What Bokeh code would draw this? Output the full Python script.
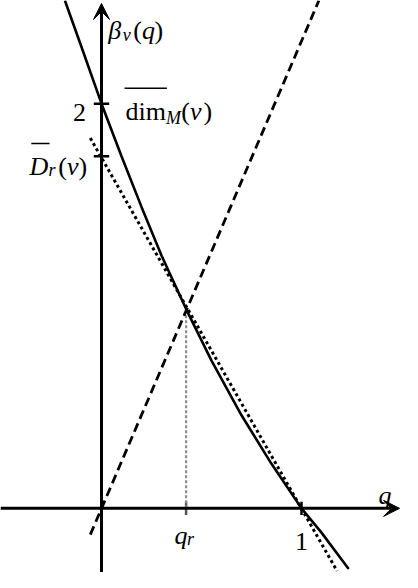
from bokeh.plotting import figure
from bokeh.models import Arrow, VeeHead
from bokeh.core.properties import value
from bokeh.embed import file_html
from bokeh.resources import INLINE

# solid curve beta_nu(q)
q_curve = [-0.183, -0.10, 0.0, 0.10, 0.20, 0.30, 0.423, 0.55, 0.70, 0.85, 1.0, 1.10, 1.236]
beta_curve = [2.51, 2.28, 2.0, 1.74, 1.49, 1.25, 0.985, 0.73, 0.46, 0.22, 0.0, -0.12, -0.30]

# dotted line through (0, D_r) and (1, 0)
q_chord = [-0.056, 1.178]
beta_chord = [1.83, -0.31]

# dashed line from the origin through the crossing point
q_ray = [-0.056, 1.087]
beta_ray = [-0.13, 2.51]

q_r = 0.423
beta_at_qr = 0.985

y_ticks = [2.0, 1.74]      # dim_M(nu), D_r(nu)
x_ticks = [q_r, 1.0]
x_tick_labels = ["q", "1"]
y_tick_labels = ["2"]

x_lo, x_hi = -0.505, 1.505
y_lo, y_hi = -0.317, 2.51

FONT = "Liberation Serif"
BIG = "26px"
SUB = "18px"

p = figure(width=402, height=572, x_range=(x_lo, x_hi), y_range=(y_lo, y_hi),
           output_backend="svg", toolbar_location=None, min_border=0)
p.axis.visible = False
p.grid.visible = False
p.outline_line_color = None
p.background_fill_color = "white"


def at(xp, yp):
    # position in the reference picture (pixels) -> data units
    return (xp - 105) / 208.0, (522 - yp) / 208.0


def put(xp, yp, s, size=BIG, style="normal", align="left"):
    x, y = at(xp, yp)
    p.text(x=[x], y=[y], text=[s], text_font=value(FONT), text_font_size=size,
           text_font_style=style, text_align=align, text_baseline="alphabetic",
           text_color="black")


# axes with arrow heads
ax_end = at(415, 3)
p.add_layout(Arrow(end=VeeHead(size=16, fill_color="black", line_color="black"),
                   x_start=x_lo, y_start=0, x_end=ax_end[0], y_end=0,
                   line_width=3, line_color="black"))
p.add_layout(Arrow(end=VeeHead(size=16, fill_color="black", line_color="black"),
                   x_start=0, y_start=y_lo, x_end=0, y_end=ax_end[1],
                   line_width=3, line_color="black"))

# ticks
tl = 8 / 208.0
p.segment(x0=[-tl] * len(y_ticks), y0=y_ticks, x1=[tl] * len(y_ticks), y1=y_ticks,
          line_color="black", line_width=2.5)
p.segment(x0=x_ticks, y0=[-tl * 0.85] * 2, x1=x_ticks, y1=[tl * 0.85] * 2,
          line_color=["#555555", "black"], line_width=2.5)

# grey guide down to q_r
p.line([q_r, q_r], [0, beta_at_qr], line_color="#8f8f8f", line_dash="3 2", line_width=2.2)

# curves
p.line(q_ray, beta_ray, line_color="black", line_dash="9 5", line_width=2.8)
p.line(q_chord, beta_chord, line_color="black", line_dash="3 3", line_width=3)
p.line(q_curve, beta_curve, line_color="black", line_width=2.6)

# y axis label beta_nu(q)
put(112, 31, "β", style="italic")
put(127, 35, "ν", SUB, "italic")
put(138, 31, "(")
put(147, 31, "q", style="italic")
put(160, 31, ")")

# tick label 2 and upper Minkowski dimension
put(89, 115, y_tick_labels[0], align="right")
put(130, 114, "dim")
put(172, 121, "M", SUB, "italic")
put(188, 114, "(")
put(197, 114, "ν", style="italic")
put(211, 114, ")")

# D_r(nu)
put(30, 171, "D", style="italic")
put(50, 174, "r", SUB, "italic")
put(60, 171, "(")
put(69, 171, "ν", style="italic")
put(81, 171, ")")

# overlines
o1 = at(129, 90), at(173, 90)
o2 = at(32, 147), at(51, 147)
p.segment(x0=[o1[0][0], o2[0][0]], y0=[o1[0][1], o2[0][1]],
          x1=[o1[1][0], o2[1][0]], y1=[o1[1][1], o2[1][1]],
          line_color="black", line_width=1.5)

# x axis label and tick labels
put(393, 509, "q", style="italic")
put(181, 550, x_tick_labels[0], style="italic")
put(194, 553, "r", SUB, "italic")
put(313, 556, x_tick_labels[1], align="center")

open("out.html", "w").write(file_html(p, INLINE))
